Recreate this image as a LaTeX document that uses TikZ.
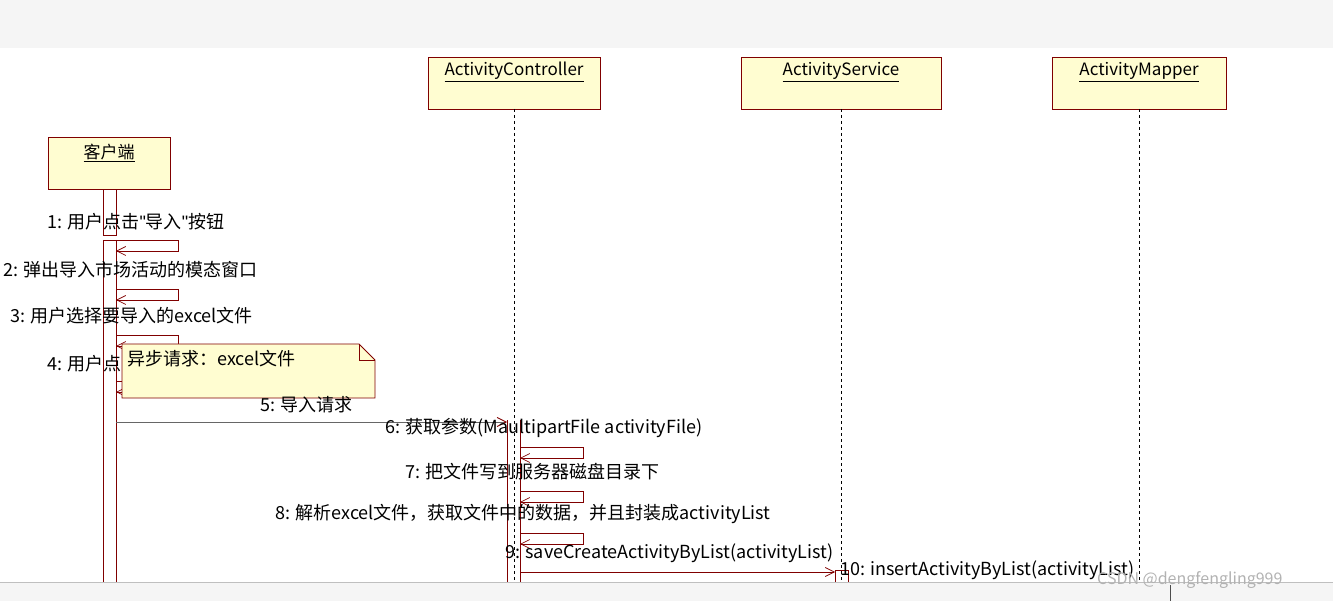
\documentclass[tikz,border=0pt]{standalone}
\usepackage{fontspec}
\usetikzlibrary{arrows.meta}
\setmainfont{Noto Sans CJK SC}
\newfontfamily\lat{Liberation Sans}
\begin{document}
\begin{tikzpicture}[x=1pt,y=-1pt,
  obj/.style={draw=red!50!black,fill=yellow!18,line width=0.8pt},
  ttl/.style={font=\fontsize{17}{18}\selectfont,anchor=center},
  lbl/.style={font=\fontsize{18}{19}\selectfont,anchor=west,inner sep=0pt},
  life/.style={dashed,line width=0.7pt},
  act/.style={draw=red!50!black,fill=white,line width=0.7pt},
  msg/.style={draw=red!50!black,line width=0.7pt},
  tip/.style={-{Straight Barb[length=9pt,width=9pt]}}]
\useasboundingbox (0,0) rectangle (1333,601);
\fill[gray!8] (0,0) rectangle (1333,48);
\fill[gray!8] (0,582) rectangle (1333,601);
\draw[gray!50] (0,582) -- (1333,582);
\draw[black!70,line width=1pt] (1170,585) -- (1170,601);
% objects
\draw[obj] (428,57) rectangle (600,109);
\draw[obj] (741,57) rectangle (941,109);
\draw[obj] (1052,57) rectangle (1226,109);
\draw[obj] (48,137) rectangle (170,189);
\node[ttl] (c) at (514,72) {\underline{ActivityController}};
\node[ttl] (s) at (841,72) {\underline{ActivityService}};
\node[ttl] (m) at (1139,72) {\underline{ActivityMapper}};
\node[ttl] (k) at (109,153) {\underline{客户端}};
% lifelines
\draw[life] (514,109) -- (514,582);
\draw[life] (841,109) -- (841,582);
\draw[life] (1139,109) -- (1139,582);
% activations
\draw[act] (103,189) rectangle (116,235);
\draw[act] (103,240) -- (103,582) (116,240) -- (116,582) (103,240) -- (116,240);
\draw[act] (507,420) -- (507,582) (520,420) -- (520,582);
\draw[act] (835,570) -- (835,582) (848,570) -- (848,582) (835,570)--(848,570);
% self messages client
\foreach \y in {240,289,335,381}{
  \draw[msg,tip] (116,\y) -- (178,\y) -- (178,\y+11) -- (116,\y+11);}
\node[lbl] (l1) at (47,222) {1: 用户点击{\lat"}导入{\lat"}按钮};
\node[lbl] (l2) at (3,270) {2: 弹出导入市场活动的模态窗口};
\node[lbl] (l3) at (10,316) {3: 用户选择要导入的excel文件};
\node[lbl] (l4) at (47,364) {4: 用户点};
% note
\draw[obj] (122,344) -- (359,344) -- (375,360) -- (375,398) -- (122,398) -- cycle;
\draw[red!50!black,line width=0.8pt] (359,344) -- (359,360) -- (375,360);
\node[lbl] (n) at (127,359) {异步请求：excel文件};
% message 5
\node[lbl] (l5) at (260,405) {5: 导入请求};
\draw[black!60,line width=0.8pt,-{Straight Barb[length=9pt,width=9pt,red!50!black]}] (116,422) -- (507,422);
\node[lbl] (l6) at (385,428) {6: 获取参数(MaultipartFile activityFile)};
\foreach \y in {447,491,533}{
  \draw[msg,tip] (520,\y) -- (583,\y) -- (583,\y+11) -- (520,\y+11);}
\node[lbl] (l7) at (405,472) {7: 把文件写到服务器磁盘目录下};
\node[lbl] (l8) at (275,514) {8: 解析excel文件，获取文件中的数据，并且封装成activityList};
\node[lbl] (l9) at (505,553) {9: saveCreateActivityByList(activityList)};
\draw[msg,tip] (520,572) -- (835,572);
\node[lbl] (l10) at (840,570) {10: insertActivityByList(activityList)};
\node[lbl,text=gray!60,font=\fontsize{16}{17}\selectfont] (w) at (1097,580) {CSDN @dengfengling999};
\end{tikzpicture}
\end{document}
